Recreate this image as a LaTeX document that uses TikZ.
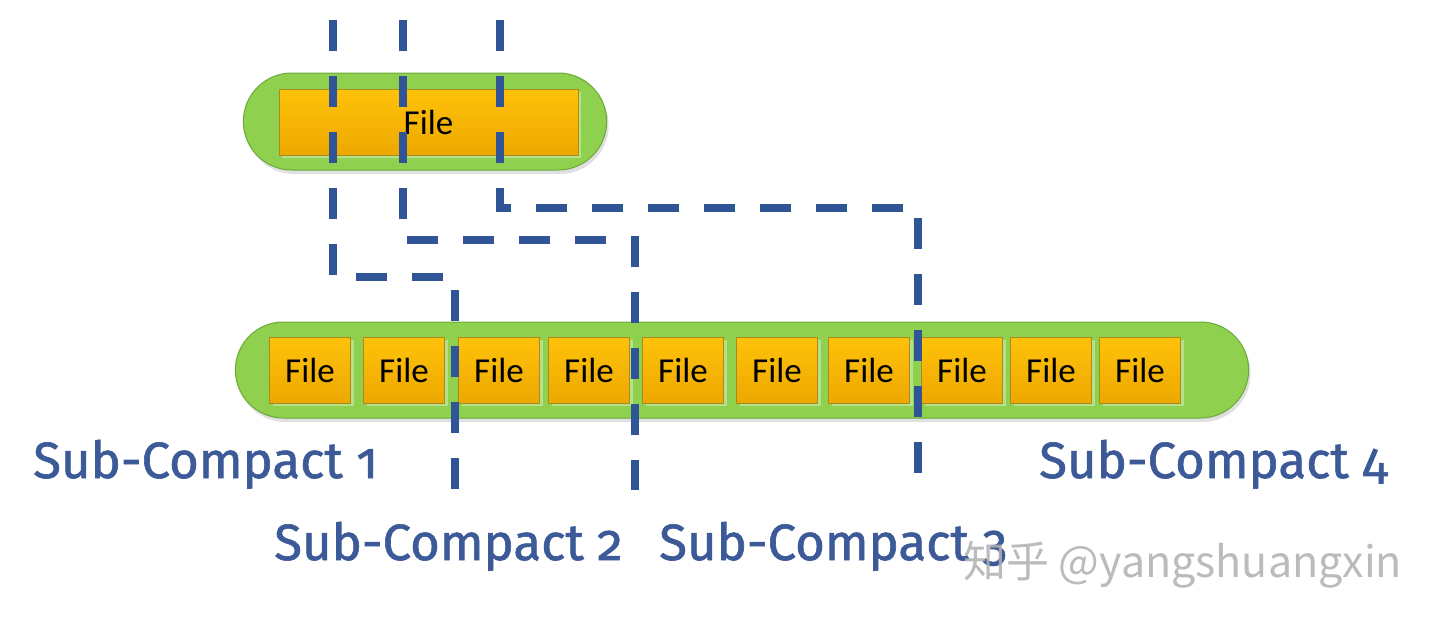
\documentclass[tikz,border=0pt]{standalone}
\usepackage{fontspec}
\setmainfont{Carlito}
\newfontfamily\labelfont[Numbers=OldStyle, FakeBold=1.2]{Fira Sans}
\newfontfamily\cjkfont{Noto Sans CJK SC}
\usetikzlibrary{shapes.misc,shadows}
\definecolor{pillgreen}{HTML}{8FD14F}
\definecolor{pillborder}{HTML}{6AA83A}
\definecolor{filetop}{HTML}{FFC20A}
\definecolor{filebot}{HTML}{EDA800}
\definecolor{fileborder}{HTML}{A88A1E}
\definecolor{cutblue}{HTML}{2F5597}
\definecolor{lblblue}{HTML}{3C5A98}
\definecolor{wmgray}{HTML}{AFAFAF}
\tikzset{
  pill/.style={rounded rectangle, draw=pillborder, line width=1pt, fill=pillgreen,
    drop shadow={shadow xshift=2pt, shadow yshift=-4pt, fill=black, opacity=0.12}},
  filebox/.style={rectangle, draw=fileborder, line width=0.8pt,
    top color=filetop, bottom color=filebot, inner sep=0pt,
    font=\fontsize{35}{40}\selectfont, text=black,
    drop shadow={shadow xshift=3pt, shadow yshift=-3pt, fill=white, opacity=0.35}},
  smallfile/.style={filebox, minimum width=81pt, minimum height=66pt},
  cut/.style={draw=cutblue, line width=7.5pt, dash pattern=on 31pt off 25pt},
  lbl/.style={inner sep=0pt, anchor=base west, text=lblblue,
    font=\labelfont\fontsize{51}{60}\selectfont},
}
\begin{document}
\begin{tikzpicture}[x=1pt,y=-1pt]
\useasboundingbox (0,0) rectangle (1440,630);
% top pill with one big file
\node[pill, minimum width=370pt, minimum height=97pt] (toppill) at (425,121.5) {};
\node[filebox, minimum width=299pt, minimum height=66pt] (topfile) at (428.5,122) {File};
% bottom pill with ten files
\node[pill, minimum width=1020pt, minimum height=96pt] (botpill) at (742,370) {};
\node[smallfile] (f1) at (310,370) {File};
\node[smallfile] (f2) at (404,370) {File};
\node[smallfile] (f3) at (499,370) {File};
\node[smallfile] (f4) at (589,370) {File};
\node[smallfile] (f5) at (683,370) {File};
\node[smallfile] (f6) at (777,370) {File};
\node[smallfile] (f7) at (869,370) {File};
\node[smallfile] (f8) at (962,370) {File};
\node[smallfile] (f9) at (1051,370) {File};
\node[smallfile] (f10) at (1140,370) {File};
% cut lines
\coordinate (a0) at (333,20);
\coordinate (a1) at (455,490);
\coordinate (b0) at (403,20);
\coordinate (b1) at (635,490);
\coordinate (c0) at (500,20);
\coordinate (c1) at (918,473);
\draw[cut] (a0) -- ++(0,257) -| (a1);
\draw[cut] (b0) -- ++(0,220) -| (b1);
\draw[cut] (c0) -- ++(0,188) -| (c1);
% labels
\node[lbl] (sc1) at (33,478) {Sub-Compact 1};
\node[lbl] (sc2) at (274,560) {Sub-Compact 2};
\node[lbl] (sc3) at (659,560) {Sub-Compact 3};
\node[lbl] (sc4) at (1039,478) {Sub-Compact 4};
% watermark
\node[inner sep=0pt, anchor=west, text=wmgray, opacity=0.85,
  font=\cjkfont\fontsize{43}{50}\selectfont] (wm) at (963,565) {知乎 @yangshuangxin};
\end{tikzpicture}
\end{document}
